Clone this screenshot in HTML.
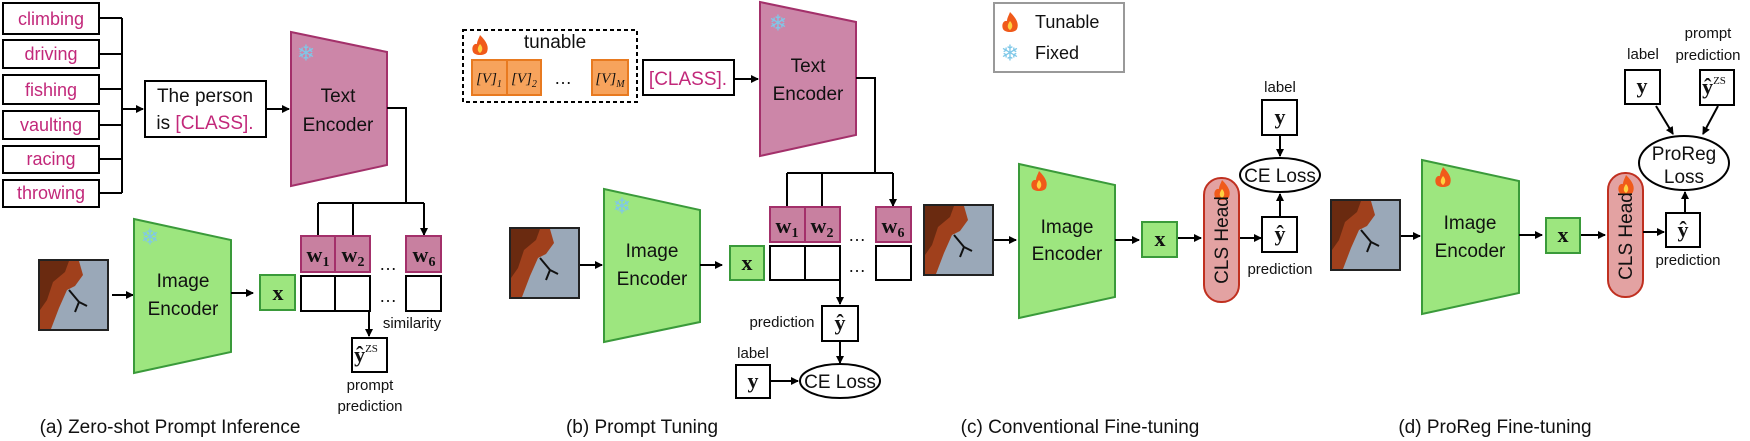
<!DOCTYPE html>
<html><head><meta charset="utf-8"><style>
html,body{margin:0;padding:0;background:#fff}
svg{display:block}
text{font-family:"Liberation Sans",sans-serif;fill:#111}
.c{fill:#c2287a}
.m{font-family:"Liberation Serif",serif;font-weight:bold}
</style></head><body>
<svg width="1750" height="441" viewBox="0 0 1750 441" xmlns="http://www.w3.org/2000/svg">
<defs>
<marker id="a" markerWidth="8" markerHeight="8" refX="7" refY="4" orient="auto" markerUnits="userSpaceOnUse"><path d="M0,0 L8,4 L0,8 z" fill="#000"/></marker>
<g id="img"><rect x="0" y="0" width="69" height="70" fill="#9aa8b8" stroke="#222" stroke-width="2"/><path d="M1,1 L40,1 L44,15 L36,26 L28,30 L20,48 L12,69 L1,69z" fill="#a0401c"/><path d="M1,1 L30,1 L26,12 L14,22 L8,40 L1,50z" fill="#6a2a10"/><path d="M30,30 L40,42 L48,46 M40,42 L36,52" stroke="#111" stroke-width="2" fill="none"/></g>
<g id="snow"><text x="0" y="0" font-size="22" style="fill:#7fc8e8" text-anchor="middle" dominant-baseline="central">❄</text></g>
<g id="fire"><path d="M0,-10 C7,-3 9,2 7,7 C5,11 -5,11 -7,7 C-9,2 -6,-2 -3,-1 C-3,-4 -1,-7 0,-10z" fill="#f05a1a"/><path d="M0,-1 C3,2 3,6 0,8 C-3,6 -3,3 0,-1z" fill="#ffd040"/></g>
</defs>
<g stroke="#000" stroke-width="2" fill="none">
<rect x="3" y="3" width="96" height="31" fill="#fff"/><rect x="3" y="40" width="96" height="28" fill="#fff"/><rect x="3" y="75" width="96" height="29" fill="#fff"/><rect x="3" y="111" width="96" height="28" fill="#fff"/><rect x="3" y="146" width="96" height="27" fill="#fff"/><rect x="3" y="180" width="96" height="27" fill="#fff"/>
<path d="M100,18H122M100,54H122M100,89H122M100,125H122M100,159H122M100,193H122M122,18V193"/>
<path d="M122,109H143" marker-end="url(#a)"/>
<rect x="145" y="81" width="121" height="56" fill="#fff"/>
<path d="M266,109H289" marker-end="url(#a)"/>
<polygon points="291,32 387,52 387,165 291,186" fill="#cc86a8" stroke="#a3306a"/>
<path d="M387,108H406V203M318,203H424"/>
<path d="M318,203V235M353,203V235M424,203V235" marker-end="url(#a)"/>
<rect x="301" y="236" width="34" height="36" fill="#c880a0" stroke="#a3306a"/><rect x="335" y="236" width="35" height="36" fill="#c880a0" stroke="#a3306a"/><rect x="406" y="236" width="35" height="36" fill="#c880a0" stroke="#a3306a"/>
<rect x="301" y="276" width="34" height="35"/><rect x="335" y="276" width="35" height="35"/><rect x="406" y="276" width="35" height="35"/>
<path d="M369,311V336" marker-end="url(#a)"/>
<rect x="352" y="338" width="35" height="34"/>
<path d="M112,295H133" marker-end="url(#a)"/>
<polygon points="134,219 231,240 231,352 134,373" fill="#9de67f" stroke="#3a9a3a"/>
<path d="M231,293H253" marker-end="url(#a)"/>
<rect x="260" y="275" width="35" height="35" fill="#9de67f" stroke="#3a9a3a"/>
<rect x="463" y="30" width="174" height="72" stroke-dasharray="4,3"/>
<rect x="472" y="60" width="35" height="35" fill="#f7a35c" stroke="#e87a20"/><rect x="507" y="60" width="34" height="35" fill="#f7a35c" stroke="#e87a20"/><rect x="592" y="60" width="36" height="35" fill="#f7a35c" stroke="#e87a20"/>
<rect x="643" y="60" width="91" height="35"/>
<path d="M734,79H758" marker-end="url(#a)"/>
<polygon points="760,2 856,22 856,135 760,156" fill="#cc86a8" stroke="#a3306a"/>
<path d="M856,78H875V173M787,173H893"/>
<path d="M787,173V206M822,173V206M893,173V206" marker-end="url(#a)"/>
<rect x="770" y="207" width="35" height="35" fill="#c880a0" stroke="#a3306a"/><rect x="805" y="207" width="35" height="35" fill="#c880a0" stroke="#a3306a"/><rect x="876" y="207" width="35" height="35" fill="#c880a0" stroke="#a3306a"/>
<rect x="770" y="246" width="35" height="34"/><rect x="805" y="246" width="35" height="34"/><rect x="876" y="246" width="35" height="34"/>
<path d="M840,280V304" marker-end="url(#a)"/>
<rect x="822" y="306" width="36" height="35"/>
<path d="M840,341V363" marker-end="url(#a)"/>
<ellipse cx="840" cy="381" rx="40" ry="17"/>
<rect x="736" y="365" width="34" height="33"/>
<path d="M770,381H798" marker-end="url(#a)"/>
<path d="M580,265H602" marker-end="url(#a)"/>
<polygon points="604,189 700,210 700,322 604,342" fill="#9de67f" stroke="#3a9a3a"/>
<path d="M700,265H722" marker-end="url(#a)"/>
<rect x="730" y="246" width="34" height="34" fill="#9de67f" stroke="#3a9a3a"/>
<rect x="994" y="3" width="130" height="69" stroke="#999"/>
<path d="M993,240H1016" marker-end="url(#a)"/>
<polygon points="1019,164 1115,185 1115,297 1019,318" fill="#9de67f" stroke="#3a9a3a"/>
<path d="M1115,240H1139" marker-end="url(#a)"/>
<rect x="1142" y="222" width="35" height="35" fill="#9de67f" stroke="#3a9a3a"/>
<path d="M1178,238H1201" marker-end="url(#a)"/>
<rect x="1204" y="178" width="35" height="124" rx="17" fill="#e3a2a2" stroke="#c03020"/>
<path d="M1240,238H1261" marker-end="url(#a)"/>
<rect x="1262" y="217" width="35" height="35"/>
<path d="M1280,217V194" marker-end="url(#a)"/>
<ellipse cx="1280" cy="175" rx="40" ry="17"/>
<rect x="1262" y="100" width="35" height="35"/>
<path d="M1280,135V156" marker-end="url(#a)"/>
<path d="M1401,236H1420" marker-end="url(#a)"/>
<polygon points="1422,160 1519,181 1519,293 1422,314" fill="#9de67f" stroke="#3a9a3a"/>
<path d="M1519,235H1542" marker-end="url(#a)"/>
<rect x="1546" y="218" width="34" height="35" fill="#9de67f" stroke="#3a9a3a"/>
<path d="M1581,235H1605" marker-end="url(#a)"/>
<rect x="1608" y="173" width="35" height="124" rx="17" fill="#e3a2a2" stroke="#c03020"/>
<path d="M1643,232H1664" marker-end="url(#a)"/>
<rect x="1666" y="213" width="34" height="34"/>
<path d="M1685,213V192" marker-end="url(#a)"/>
<ellipse cx="1684" cy="163" rx="45" ry="27"/>
<rect x="1625" y="70" width="35" height="34"/>
<rect x="1700" y="70" width="34" height="35"/>
<path d="M1656,106L1673,134" marker-end="url(#a)"/>
<path d="M1718,106L1703,134" marker-end="url(#a)"/>
</g>
<use href="#img" x="39" y="260"/><use href="#img" x="510" y="228"/><use href="#img" x="924" y="205"/><use href="#img" x="1331" y="200"/>
<use href="#snow" x="306" y="53"/><use href="#snow" x="150" y="237"/><use href="#snow" x="778" y="23"/><use href="#snow" x="622" y="206"/><use href="#snow" x="1010" y="53"/>
<use href="#fire" x="480" y="45"/><use href="#fire" x="1010" y="22"/><use href="#fire" x="1039" y="181"/><use href="#fire" x="1222" y="190"/><use href="#fire" x="1443" y="177"/><use href="#fire" x="1626" y="185"/>
<g font-size="18" text-anchor="middle">
<text x="51" y="25" class="c">climbing</text><text x="51" y="60" class="c">driving</text><text x="51" y="96" class="c">fishing</text><text x="51" y="131" class="c">vaulting</text><text x="51" y="165" class="c">racing</text><text x="51" y="199" class="c">throwing</text>
</g>
<g font-size="19" text-anchor="middle">
<text x="205" y="102">The person</text><text x="205" y="129">is <tspan class="c">[CLASS].</tspan></text>
<text x="338" y="102">Text</text><text x="338" y="131">Encoder</text>
<text x="183" y="287">Image</text><text x="183" y="315">Encoder</text>
<text x="808" y="72">Text</text><text x="808" y="100">Encoder</text>
<text x="652" y="257">Image</text><text x="652" y="285">Encoder</text>
<text x="688" y="85" class="c">[CLASS].</text>
<text x="1067" y="233">Image</text><text x="1067" y="260">Encoder</text>
<text x="1470" y="229">Image</text><text x="1470" y="257">Encoder</text>
<text x="1280" y="182">CE Loss</text><text x="840" y="388">CE Loss</text>
<text x="1684" y="160">ProReg</text><text x="1684" y="183">Loss</text>
<text x="555" y="48">tunable</text>
<text transform="translate(1228,240) rotate(-90)">CLS Head</text>
<text transform="translate(1632,236) rotate(-90)">CLS Head</text>
</g>
<g font-size="18"><text x="1035" y="28">Tunable</text><text x="1035" y="59">Fixed</text></g>
<g font-size="15" text-anchor="middle">
<text x="412" y="328">similarity</text><text x="370" y="390">prompt</text><text x="370" y="411">prediction</text>
<text x="782" y="327">prediction</text><text x="753" y="358">label</text>
<text x="1280" y="92">label</text><text x="1280" y="274">prediction</text>
<text x="1643" y="59">label</text><text x="1708" y="38">prompt</text><text x="1708" y="60">prediction</text>
<text x="1688" y="265">prediction</text>
</g>
<g font-size="22" text-anchor="middle" class="m">
<text class="m" x="318" y="262">w<tspan font-size="14" dy="4">1</tspan></text><text class="m" x="353" y="262">w<tspan font-size="14" dy="4">2</tspan></text><text class="m" x="424" y="262">w<tspan font-size="14" dy="4">6</tspan></text>
<text class="m" x="787" y="233">w<tspan font-size="14" dy="4">1</tspan></text><text class="m" x="822" y="233">w<tspan font-size="14" dy="4">2</tspan></text><text class="m" x="893" y="233">w<tspan font-size="14" dy="4">6</tspan></text>
<text class="m" x="278" y="300">x</text><text class="m" x="747" y="270">x</text><text class="m" x="1160" y="246">x</text><text class="m" x="1563" y="242">x</text>
<text class="m" x="366" y="362">ŷ<tspan font-size="11" dy="-10" font-weight="normal">ZS</tspan></text>
<text class="m" x="1714" y="94">ŷ<tspan font-size="11" dy="-10" font-weight="normal">ZS</tspan></text>
<text class="m" x="840" y="330">ŷ</text><text class="m" x="753" y="388">y</text>
<text class="m" x="1280" y="241">ŷ</text><text class="m" x="1280" y="124">y</text>
<text class="m" x="1683" y="237">ŷ</text><text class="m" x="1642" y="93">y</text>
</g>
<g font-size="18" text-anchor="middle"><text x="388" y="270">…</text><text x="388" y="302">…</text><text x="857" y="241">…</text><text x="857" y="272">…</text><text x="563" y="84">…</text></g>
<g font-style="italic" font-size="15" text-anchor="middle">
<text x="489" y="83" style="font-family:'Liberation Serif',serif">[V]<tspan font-size="10" dy="4">1</tspan></text>
<text x="524" y="83" style="font-family:'Liberation Serif',serif">[V]<tspan font-size="10" dy="4">2</tspan></text>
<text x="610" y="83" style="font-family:'Liberation Serif',serif">[V]<tspan font-size="10" dy="4">M</tspan></text>
</g>
<g font-size="19" text-anchor="middle">
<text x="170" y="433">(a) Zero-shot Prompt Inference</text>
<text x="642" y="433">(b) Prompt Tuning</text>
<text x="1080" y="433">(c) Conventional Fine-tuning</text>
<text x="1495" y="433">(d) ProReg Fine-tuning</text>
</g>
</svg>
</body></html>
